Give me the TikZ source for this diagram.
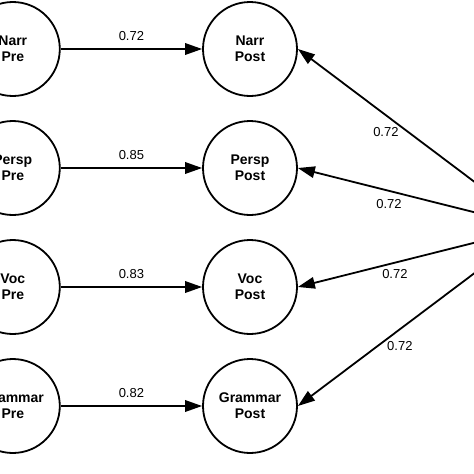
\documentclass[tikz,border=0pt]{standalone}
\usepackage{fontspec}
\setmainfont{Liberation Sans}
\usetikzlibrary{arrows.meta}
\begin{document}
\begin{tikzpicture}[x=1pt,y=-1pt,
  var/.style={circle,draw,line width=1.8pt,minimum size=94pt,inner sep=0pt,
    font=\bfseries\fontsize{14}{16}\selectfont,align=center},
  conn/.style={line width=1.8pt,-{Triangle[length=17pt,width=11.5pt]}},
  lbl/.style={font=\fontsize{13}{15}\selectfont,inner sep=1pt}]
\useasboundingbox (0,0) rectangle (474,474);
\clip (0,0) rectangle (474,474);
\node[var] (narrpre) at (12.8,49) {Narr\\Pre};
\node[var] (persppre) at (12.8,168) {Persp\\Pre};
\node[var] (vocpre) at (12.8,287) {Voc\\Pre};
\node[var] (grampre) at (12.8,406) {Grammar\\Pre};
\node[var] (narrpost) at (250,49) {Narr\\Post};
\node[var] (persppost) at (250,168) {Persp\\Post};
\node[var] (vocpost) at (250,287) {Voc\\Post};
\node[var] (grampost) at (250,406) {Grammar\\Post};
\node[var] (r) at (583,227.5) {};
\draw[conn] (narrpre) -- node[lbl,yshift=12.5pt] {0.72} (narrpost);
\draw[conn] (persppre) -- node[lbl,yshift=12.5pt] {0.85} (persppost);
\draw[conn] (vocpre) -- node[lbl,yshift=12.5pt] {0.83} (vocpost);
\draw[conn] (grampre) -- node[lbl,yshift=12.5pt] {0.82} (grampost);
\draw[conn] (r.west) -- node[lbl,pos=0.629,yshift=-16.5pt] {0.72} (narrpost.east);
\draw[conn] (r.west) -- node[lbl,pos=0.616,yshift=-13pt] {0.72} (persppost.east);
\draw[conn] (r.west) -- node[lbl,pos=0.591,yshift=-11.3pt] {0.72} (vocpost.east);
\draw[conn] (r.west) -- node[lbl,pos=0.57,yshift=-16.5pt] {0.72} (grampost.east);
\end{tikzpicture}
\end{document}
